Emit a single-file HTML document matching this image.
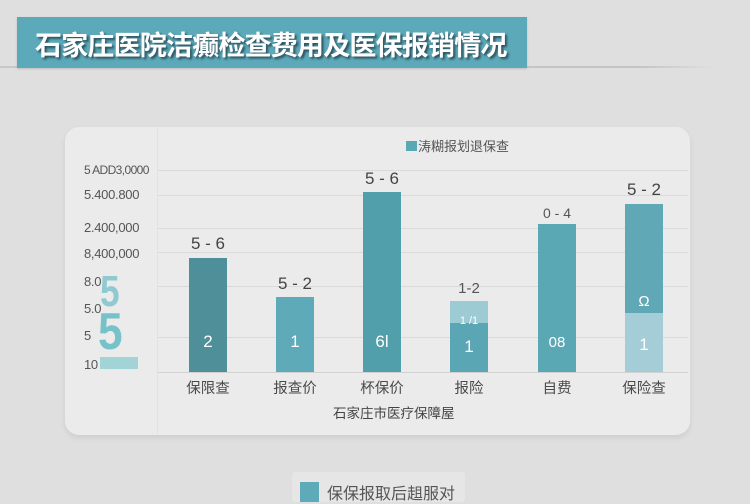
<!DOCTYPE html>
<html><head><meta charset="utf-8">
<style>
*{margin:0;padding:0;box-sizing:border-box}
body{width:750px;height:500px;overflow:hidden;background:#dfdfdf;font-family:"Liberation Sans","Noto Sans CJK SC",sans-serif;position:relative}
.abs{position:absolute}
.hl{position:absolute;left:0;top:66px;width:712px;height:2px;background:linear-gradient(to right,#c8c8c8,#c4c4c4 90%,rgba(200,200,200,0));}
.banner{position:absolute;left:17px;top:17px;width:510px;height:51px;background:#5ba9b9;box-shadow:0 1px 2px rgba(0,0,0,.15)}
.title{position:absolute;left:35px;top:27px;font-size:27px;font-weight:bold;color:#fff;white-space:nowrap;letter-spacing:-0.8px;font-family:"Noto Sans CJK SC",sans-serif;line-height:34px;text-shadow:2px 2px 2px rgba(30,50,60,.75)}
.card{position:absolute;left:65px;top:127px;width:625px;height:308px;background:#ebebeb;border-radius:14px;box-shadow:0 3px 6px rgba(0,0,0,.08)}
.vdiv{position:absolute;left:157px;top:128px;width:1px;height:306px;background:#e2e2e2}
.grid{position:absolute;left:158px;width:530px;height:1px;background:#dadada}
.yl{position:absolute;left:84px;font-size:13px;color:#555;white-space:nowrap;line-height:14px;letter-spacing:-0.3px}
.bar{position:absolute;width:38px}
.top{position:absolute;font-size:17px;color:#444;width:60px;text-align:center;line-height:18px}
.in{position:absolute;font-size:17px;color:#fff;width:38px;text-align:center;line-height:18px}
.xl{position:absolute;top:379px;font-size:14.5px;color:#4a4a4a;width:80px;text-align:center;font-family:"Noto Sans CJK SC",sans-serif;line-height:18px}
</style></head><body>
<div class="hl"></div>
<div class="banner"></div>
<div class="title">石家庄医院洁癫检查费用及医保报销情况</div>

<div class="card"></div>
<div class="vdiv"></div>

<div class="grid" style="top:170px"></div>
<div class="grid" style="top:195px"></div>
<div class="grid" style="top:228px"></div>
<div class="grid" style="top:252px"></div>
<div class="grid" style="top:286px"></div>
<div class="grid" style="top:337px"></div>
<div class="grid" style="top:372px;background:#d2d2d2"></div>

<div class="yl" style="top:163px;font-size:12px;letter-spacing:-0.6px">5 ADD3,0000</div>
<div class="yl" style="top:188px">5.400.800</div>
<div class="yl" style="top:221px">2.400,000</div>
<div class="yl" style="top:247px">8,400,000</div>
<div class="yl" style="top:275px">8.0</div>
<div class="yl" style="top:302px">5.0</div>
<div class="yl" style="top:329px">5</div>
<div class="yl" style="top:358px">10</div>
<div class="abs" style="left:100px;top:270px;font-size:44px;font-weight:bold;color:rgba(80,180,190,.6);line-height:44px;transform:scaleX(0.8);transform-origin:left">5</div>
<div class="abs" style="left:98px;top:306px;font-size:52px;font-weight:bold;color:rgba(80,180,190,.75);line-height:52px;transform:scaleX(0.85);transform-origin:left">5</div>
<div class="abs" style="left:100px;top:357px;width:38px;height:12px;background:rgba(90,190,195,.5)"></div>

<!-- legend top -->
<div class="abs" style="left:406px;top:141px;width:11px;height:10px;background:#5aa8b6"></div>
<div class="abs" style="left:418px;top:138px;font-size:13px;color:#555;font-family:'Noto Sans CJK SC',sans-serif;line-height:16px;white-space:nowrap">涛糊报划退保查</div>

<!-- bars -->
<div class="bar" style="left:189px;top:258px;height:114px;background:#4f8f9a"></div>
<div class="top" style="left:178px;top:235px">5 - 6</div>
<div class="in" style="left:189px;top:333px">2</div>

<div class="bar" style="left:276px;top:297px;height:75px;background:#5eaab8"></div>
<div class="top" style="left:265px;top:275px">5 - 2</div>
<div class="in" style="left:276px;top:333px">1</div>

<div class="bar" style="left:363px;top:192px;height:180px;background:#509faa"></div>
<div class="top" style="left:352px;top:170px">5 - 6</div>
<div class="in" style="left:363px;top:333px">6l</div>

<div class="bar" style="left:450px;top:301px;height:22px;background:#9ccbd3"></div>
<div class="bar" style="left:450px;top:323px;height:49px;background:#5ba6b4"></div>
<div class="top" style="left:439px;top:280px;font-size:15px;color:#555">1-2</div>
<div class="in" style="left:450px;top:312px;font-size:11px">1 /1</div>
<div class="in" style="left:450px;top:338px">1</div>

<div class="bar" style="left:538px;top:224px;height:148px;background:#5ba8b5"></div>
<div class="top" style="left:527px;top:204px;font-size:14px;color:#555">0 - 4</div>
<div class="in" style="left:538px;top:334px;font-size:15px">08</div>

<div class="bar" style="left:625px;top:204px;height:109px;background:#60a8b6"></div>
<div class="bar" style="left:625px;top:313px;height:59px;background:#a5cdd7"></div>
<div class="top" style="left:614px;top:181px">5 - 2</div>
<div class="in" style="left:625px;top:293px;font-size:15px">Ω</div>
<div class="in" style="left:625px;top:336px">1</div>

<!-- x labels -->
<div class="xl" style="left:168px">保限查</div>
<div class="xl" style="left:255px">报查价</div>
<div class="xl" style="left:342px">杯保价</div>
<div class="xl" style="left:429px">报险</div>
<div class="xl" style="left:517px">自费</div>
<div class="xl" style="left:604px">保险查</div>

<div class="abs" style="left:333px;top:403px;font-size:13.5px;color:#444;font-family:'Noto Sans CJK SC',sans-serif;white-space:nowrap;line-height:18px">石家庄市医疗保障屋</div>

<!-- bottom legend -->
<div class="abs" style="left:292px;top:472px;width:173px;height:30px;background:#e6e6e6;border-radius:3px"></div>
<div class="abs" style="left:300px;top:482px;width:19px;height:20px;background:#5eaab8"></div>
<div class="abs" style="left:327px;top:481px;font-size:16px;color:#555;font-family:'Noto Sans CJK SC',sans-serif;white-space:nowrap;line-height:22px">保保报取后趄服对</div>
</body></html>
